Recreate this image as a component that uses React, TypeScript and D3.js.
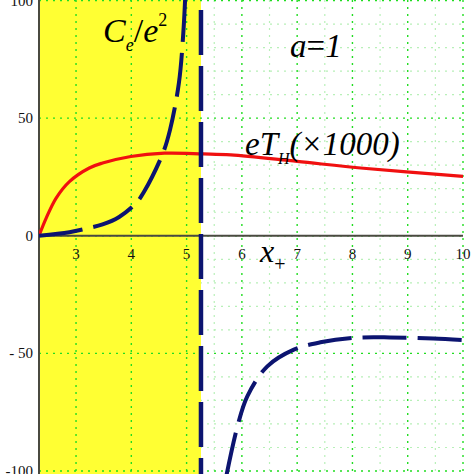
import * as d3 from "d3";
import React from "react";

const W = 474;
const H = 474;

const xTicks = [3, 4, 5, 6, 7, 8, 9, 10];
const yTicks = [-100, -50, 0, 50, 100];
const yTickLabels = ["-100", "- 50", "0", "50", "100"];

// eT_H (x1000)
const thX = [2.33, 2.46, 2.64, 2.88, 3.24, 3.48, 3.99, 4.6, 5.3, 5.8, 7.0, 8.2, 10];
const thY = [0, 7.5, 16, 23, 28.8, 30.9, 33.7, 35.1, 34.8, 34.4, 31.6, 28.7, 25.2];

// C_e / e^2, left branch
const ceLeftX = [2.33, 2.88, 3.18, 3.48, 3.78, 4.08, 4.23, 4.57, 4.7, 4.86, 4.94, 4.98];
const ceLeftY = [0, 1.5, 3, 4.8, 8, 13.7, 18.7, 35, 45, 64.8, 86, 104];

// C_e / e^2, right branch
const ceRightX = [5.72, 5.92, 6.1, 6.46, 6.94, 7.42, 8.02, 8.68, 9.46, 10];
const ceRightY = [-102, -81, -68.2, -55.5, -48.4, -45.3, -43.4, -43.2, -43.7, -44.4];

const asymptote = 5.26;
const xMin = 2.33;
const xMax = 10;

const colors = {
  yellow: "#ffff33",
  red: "#f01010",
  navy: "#0c1470",
  gridMajor: "#22dd22",
  gridMinor: "#b8f0b8",
  axis: "#4a4a40",
};

const serif = "'Liberation Serif', 'Times New Roman', serif";

export default function App() {
  const x = d3.scaleLinear().domain([xMin, xMax]).range([39, 463]);
  const y = d3.scaleLinear().domain([-100, 100]).range([471, 0.5]);

  const line = d3
    .line<[number, number]>()
    .x((d) => x(d[0]))
    .y((d) => y(d[1]))
    .curve(d3.curveCatmullRom.alpha(0.5));

  const zip = (a: number[], b: number[]) => a.map((v, i) => [v, b[i]] as [number, number]);

  const minorX = d3.range(2.5, 10.01, 0.5).filter((v) => !Number.isInteger(v));
  const minorY = d3.range(-90, 100, 10).filter((v) => v % 50 !== 0);

  return (
    <svg width={W} height={H} style={{ position: "absolute", left: 0, top: 0, background: "#fff" }}>
      <defs>
        <clipPath id="plot">
          <rect x={x(xMin)} y={0} width={W - x(xMin)} height={H} />
        </clipPath>
      </defs>

      {/* minor grid */}
      <g stroke={colors.gridMinor} strokeWidth={1.2} strokeDasharray="2,5">
        {minorX.map((v) => (
          <line key={"mx" + v} x1={x(v)} x2={x(v)} y1={0} y2={H} />
        ))}
        {minorY.map((v) => (
          <line key={"my" + v} x1={x(xMin)} x2={x(xMax)} y1={y(v)} y2={y(v)} />
        ))}
      </g>

      {/* forbidden region */}
      <rect x={x(xMin)} y={0} width={x(asymptote) - x(xMin)} height={H} fill={colors.yellow} />

      {/* major grid */}
      <g stroke={colors.gridMajor} strokeWidth={1.4} strokeDasharray="2,5">
        {xTicks.map((v) => (
          <line key={"Mx" + v} x1={x(v)} x2={x(v)} y1={0} y2={H} />
        ))}
        {yTicks.map((v) => (
          <line key={"My" + v} x1={x(xMin)} x2={x(xMax)} y1={y(v)} y2={y(v)} />
        ))}
      </g>

      {/* axes */}
      <line x1={x(xMin)} x2={x(xMin)} y1={0} y2={H} stroke={colors.axis} strokeWidth={2} />
      <line x1={x(xMin)} x2={x(xMax)} y1={y(0)} y2={y(0)} stroke={colors.axis} strokeWidth={2} />

      <g fontFamily={serif} fontSize={15} fill="#111">
        {xTicks.map((v) => (
          <text key={"tx" + v} x={x(v)} y={y(0) + 23} textAnchor="middle">
            {v}
          </text>
        ))}
        {yTicks.map((v, i) => (
          <text key={"ty" + v} x={33} y={y(v) + 5} textAnchor="end">
            {yTickLabels[i]}
          </text>
        ))}
      </g>

      <g clipPath="url(#plot)" fill="none">
        <path d={line(zip(thX, thY)) ?? ""} stroke={colors.red} strokeWidth={3.2} />
        <path
          d={line(zip(ceLeftX, ceLeftY)) ?? ""}
          stroke={colors.navy}
          strokeWidth={4}
          strokeDasharray="44,11"
        />
        <path
          d={line(zip(ceRightX, ceRightY)) ?? ""}
          stroke={colors.navy}
          strokeWidth={4}
          strokeDasharray="44,11"
        />
        <line
          x1={x(asymptote)}
          x2={x(asymptote)}
          y1={10}
          y2={H}
          stroke={colors.navy}
          strokeWidth={4.5}
          strokeDasharray="45,11"
        />
      </g>

      {/* labels */}
      <g fontFamily={serif} fontStyle="italic" fill="#000">
        <text x={103} y={42} fontSize={34}>
          C
          <tspan fontSize={18} dy={9}>e</tspan>
          <tspan fontSize={34} dy={-9} fontStyle="normal">/</tspan>
          <tspan fontSize={34}>e</tspan>
          <tspan fontSize={18} dy={-16} fontStyle="normal">2</tspan>
        </text>
        <text x={290} y={57} fontSize={33}>
          a<tspan fontStyle="normal">=</tspan>1
        </text>
        <text x={245} y={155} fontSize={33}>
          eT
          <tspan fontSize={16} dy={9}>H</tspan>
          <tspan dy={-9}>(×1000)</tspan>
        </text>
        <text x={260} y={262} fontSize={32}>
          x
          <tspan fontSize={20} dy={9} fontStyle="normal">+</tspan>
        </text>
      </g>
    </svg>
  );
}
